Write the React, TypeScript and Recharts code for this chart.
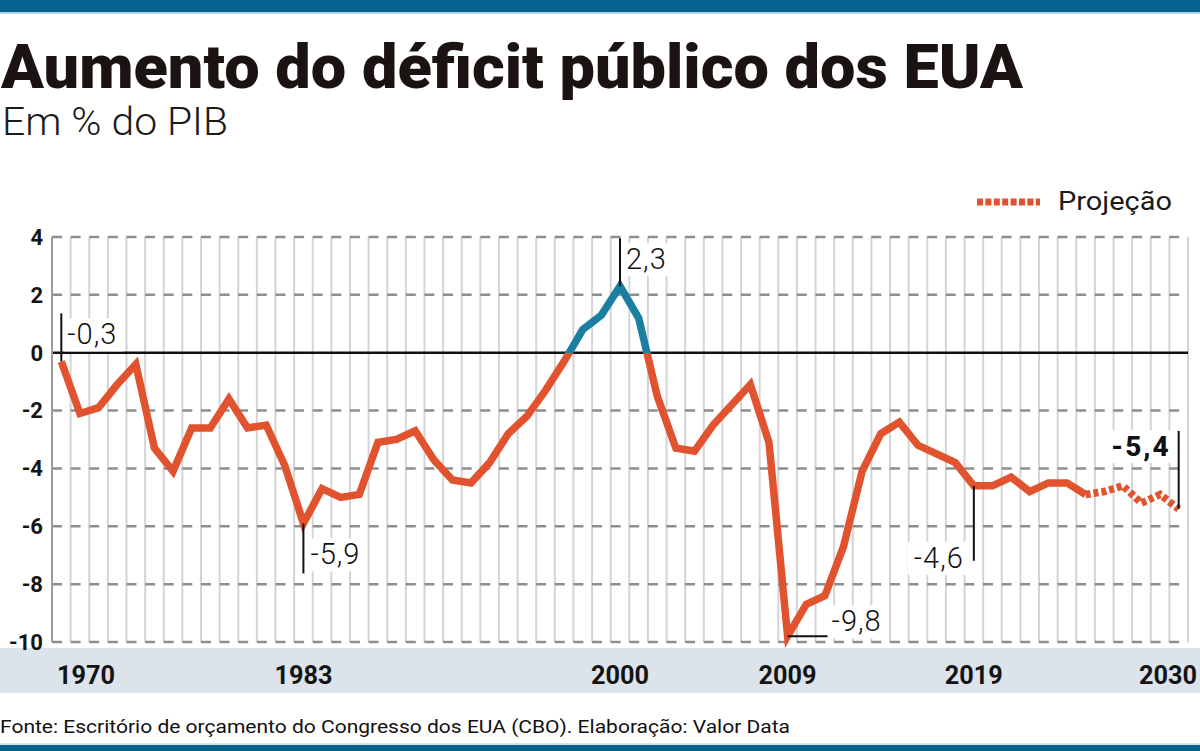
import React from "react";
import {
  LineChart,
  Line,
  XAxis,
  YAxis,
  CartesianGrid,
  ReferenceLine,
  ReferenceDot,
} from "recharts";

// Resultado do governo federal dos EUA, em % do PIB (1970-2030)
const FIRST_YEAR = 1970;
const DEFICIT = [
  -0.3, -2.1, -1.9, -1.1, -0.4, -3.3, -4.1, -2.6, -2.6, -1.6, // 1970-1979
  -2.6, -2.5, -3.9, -5.9, -4.7, -5.0, -4.9, -3.1, -3.0, -2.7, // 1980-1989
  -3.7, -4.4, -4.5, -3.8, -2.8, -2.2, -1.3, -0.3, 0.8, 1.3, // 1990-1999
  2.3, 1.2, -1.5, -3.3, -3.4, -2.5, -1.8, -1.1, -3.1, -9.8, // 2000-2009
  -8.7, -8.4, -6.7, -4.1, -2.8, -2.4, -3.2, -3.5, -3.8, -4.6, // 2010-2019
  -4.6, -4.3, -4.8, -4.5, -4.5, -4.9, -4.8, -4.6, -5.2, -4.9, // 2020-2029
  -5.4, // 2030
];
const YEARS = DEFICIT.map((_, i) => FIRST_YEAR + i);
const LAST_SOLID_YEAR = 2025;

const X_TICKS = [1970, 1983, 2000, 2009, 2019, 2030];
const Y_TICKS = [4, 2, 0, -2, -4, -6, -8, -10];

const CALLOUTS = [
  { year: 1970, side: "above" },
  { year: 1983, side: "below" },
  { year: 2000, side: "above" },
  { year: 2009, side: "right" },
  { year: 2019, side: "belowLeft" },
  { year: 2030, side: "aboveLeft", strong: true },
];

const ORANGE = "#e1532f";
const BLUE = "#1b7fa2";
const SANS = "Roboto, 'Open Sans', 'DejaVu Sans', sans-serif";

const rows = YEARS.map((year, i) => ({
  year,
  hist: year <= LAST_SOLID_YEAR ? DEFICIT[i] : null,
  proj: year >= LAST_SOLID_YEAR ? DEFICIT[i] : null,
}));

// where the zero crossing sits inside the solid line's bounding box
const histValues = DEFICIT.filter((_, i) => YEARS[i] <= LAST_SOLID_YEAR);
const histMax = Math.max(...histValues);
const histMin = Math.min(...histValues);
const zeroOffset = histMax > 0 ? histMax / (histMax - histMin) : 0;

const valueOf = (year: number) => DEFICIT[YEARS.indexOf(year)];
const fmt = (v: number) => v.toFixed(1).replace(".", ",");

function YearTick({ x, y, payload }: any) {
  const w = 58;
  const left = Math.min(Math.max(x - w / 2, 57), 1197 - w);
  return (
    <text
      x={left}
      y={y + 40}
      textLength={w}
      lengthAdjust="spacingAndGlyphs"
      fontFamily={SANS}
      fontSize={25}
      fontWeight={700}
      fill="#141414"
    >
      {payload.value}
    </text>
  );
}

function Callout({ cx, cy, label, side, strong }: any) {
  const fs = strong ? 28 : 29;
  const w = strong ? 15 * label.length - 2 : 14 * label.length - 3;
  let line = { x2: cx, y2: cy };
  let tx = cx;
  let ty = cy;
  let anchor: "start" | "end" = "start";
  if (side === "above") {
    line = { x2: cx, y2: cy - 48 };
    tx = cx + 6;
    ty = cy - 17;
  } else if (side === "below") {
    line = { x2: cx, y2: cy + 50 };
    tx = cx + 7;
    ty = cy + 41;
  } else if (side === "right") {
    line = { x2: cx + 40, y2: cy };
    tx = cx + 44;
    ty = cy - 5;
  } else if (side === "belowLeft") {
    line = { x2: cx, y2: cy + 75 };
    tx = cx - 10;
    ty = cy + 82;
    anchor = "end";
  } else if (side === "aboveLeft") {
    line = { x2: cx, y2: cy - 78 };
    tx = cx - 8;
    ty = cy - 53;
    anchor = "end";
  }
  const boxX = anchor === "start" ? tx - 3 : tx - w - 3;
  return (
    <g>
      <rect x={boxX} y={ty - 26} width={w + 6} height={33} fill="#fff" />
      <line x1={cx} y1={cy} x2={line.x2} y2={line.y2} stroke="#111" strokeWidth={2} />
      <text
        x={tx}
        y={ty}
        textAnchor={anchor}
        fontFamily={SANS}
        fontSize={fs}
        fontWeight={strong ? 800 : 300}
        letterSpacing={strong ? 2 : 1}
        fill="#111"
      >
        {label}
      </text>
    </g>
  );
}

export default function App() {
  return (
    <div
      style={{
        position: "relative",
        width: 1200,
        height: 751,
        background: "#fff",
        overflow: "hidden",
        fontFamily: SANS,
      }}
    >
      <style>{"body{margin:0}"}</style>
      <div style={{ position: "absolute", left: 0, top: 0, width: 1200, height: 12, background: "#05628d" }} />
      <div style={{ position: "absolute", left: 0, top: 12, width: 1200, height: 2, background: "#acd5e7" }} />
      <div style={{ position: "absolute", left: 0, top: 648, width: 1200, height: 45, background: "#dce3ea" }} />
      <div style={{ position: "absolute", left: 0, top: 743, width: 1200, height: 2, background: "#cfe5ee" }} />
      <div style={{ position: "absolute", left: 0, top: 745, width: 1200, height: 6, background: "#05628d" }} />

      <svg
        width={1200}
        height={751}
        style={{ position: "absolute", left: 0, top: 0, pointerEvents: "none" }}
      >
        <text
          x={1}
          y={88}
          textLength={1022}
          lengthAdjust="spacingAndGlyphs"
          fontFamily="Roboto, Lato, sans-serif"
          fontSize={62}
          fontWeight={900}
          fill="#1a1311"
        >
          Aumento do déficit público dos EUA
        </text>
        <text
          x={2}
          y={135}
          textLength={226}
          lengthAdjust="spacingAndGlyphs"
          fontFamily={SANS}
          fontSize={39}
          fontWeight={300}
          fill="#1a1a1a"
        >
          Em % do PIB
        </text>
        <line
          x1={977}
          y1={202}
          x2={1040}
          y2={202}
          stroke={ORANGE}
          strokeWidth={7}
          strokeDasharray="6 2.4"
        />
        <text
          x={1058}
          y={210}
          textLength={114}
          lengthAdjust="spacingAndGlyphs"
          fontFamily={SANS}
          fontSize={25}
          fill="#1a1a1a"
        >
          Projeção
        </text>
        <text
          x={0}
          y={733}
          textLength={790}
          lengthAdjust="spacingAndGlyphs"
          fontFamily={SANS}
          fontSize={18}
          fill="#111"
        >
          Fonte: Escritório de orçamento do Congresso dos EUA (CBO). Elaboração: Valor Data
        </text>
      </svg>

      <div style={{ position: "absolute", left: 0, top: 0 }}>
        <LineChart
          width={1200}
          height={700}
          data={rows}
          margin={{ top: 237, right: 12, bottom: 8, left: 0 }}
        >
          <defs>
            <linearGradient id="deficitStroke" x1="0" y1="0" x2="0" y2="1">
              <stop offset={0} stopColor={BLUE} />
              <stop offset={zeroOffset} stopColor={BLUE} />
              <stop offset={zeroOffset} stopColor={ORANGE} />
              <stop offset={1} stopColor={ORANGE} />
            </linearGradient>
          </defs>
          {/* thin solid dividers between the yearly columns */}
          <CartesianGrid
            horizontal={false}
            stroke="#d4d4d4"
            strokeWidth={2}
            verticalCoordinatesGenerator={({ offset }: any) => {
              const step = offset.width / YEARS.length;
              return YEARS.map((_, i) => offset.left + (i + 1) * step);
            }}
          />
          <XAxis
            dataKey="year"
            type="number"
            domain={[FIRST_YEAR - 0.5, YEARS[YEARS.length - 1] + 0.5]}
            ticks={X_TICKS}
            interval={0}
            axisLine={false}
            tickLine={false}
            tickSize={0}
            height={50}
            tick={(p: any) => <YearTick {...p} />}
          />
          <YAxis
            domain={[-10, 4]}
            ticks={Y_TICKS}
            interval={0}
            width={52}
            tickSize={0}
            tickMargin={9}
            tickLine={false}
            axisLine={{ stroke: "#9c9c9c", strokeWidth: 2 }}
            tick={{ fill: "#141414", fontSize: 22, fontWeight: 700, fontFamily: SANS }}
          />
          {Y_TICKS.filter((v) => v !== 0).map((v) => (
            <ReferenceLine
              key={v}
              y={v}
              stroke="#8e8e8e"
              strokeWidth={2.5}
              strokeDasharray="10 8.62"
            />
          ))}
          <ReferenceLine y={0} stroke="#111" strokeWidth={2.5} />
          <Line
            type="linear"
            dataKey="hist"
            stroke="url(#deficitStroke)"
            strokeWidth={7.5}
            dot={false}
            activeDot={false}
            isAnimationActive={false}
          />
          <Line
            type="linear"
            dataKey="proj"
            stroke={ORANGE}
            strokeWidth={7.5}
            strokeDasharray="5 3"
            dot={false}
            activeDot={false}
            isAnimationActive={false}
          />
          {CALLOUTS.map((c) => (
            <ReferenceDot
              key={c.year}
              x={c.year}
              y={valueOf(c.year)}
              ifOverflow="visible"
              shape={(p: any) => (
                <Callout
                  cx={p.cx}
                  cy={p.cy}
                  label={fmt(valueOf(c.year))}
                  side={c.side}
                  strong={c.strong}
                />
              )}
            />
          ))}
        </LineChart>
      </div>
    </div>
  );
}
